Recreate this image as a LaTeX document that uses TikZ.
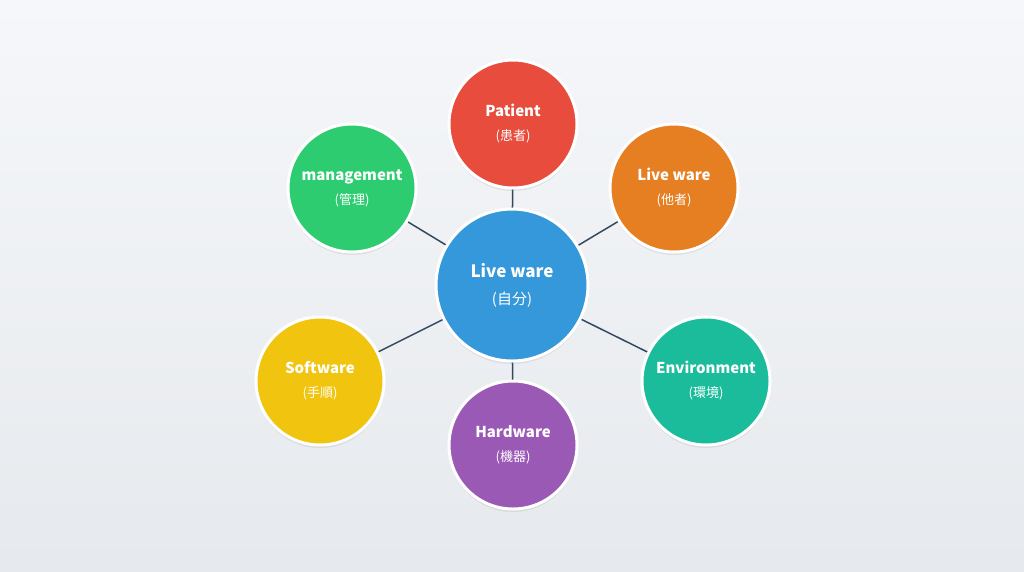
\documentclass[tikz,border=0pt]{standalone}
\usepackage{fontspec}
\setmainfont{Noto Sans CJK JP}
\usetikzlibrary{shadows}
\definecolor{bgA}{HTML}{F5F7FA}
\definecolor{bgB}{HTML}{E6E9ED}
\definecolor{lnk}{HTML}{34495E}
\definecolor{cCen}{HTML}{3498DB}
\definecolor{cPat}{HTML}{E74C3C}
\definecolor{cOth}{HTML}{E67E22}
\definecolor{cEnv}{HTML}{1ABC9C}
\definecolor{cHw}{HTML}{9B59B6}
\definecolor{cSw}{HTML}{F1C40F}
\definecolor{cMg}{HTML}{2ECC71}
\begin{document}
\begin{tikzpicture}[x=1pt,y=-1pt,
  sat/.style={circle,draw=white,line width=3pt,minimum size=128pt,inner sep=0pt,text=white,align=center,font=\bfseries\fontsize{15}{24}\selectfont,drop shadow={opacity=0.15,shadow xshift=0pt,shadow yshift=-3pt}},
  hub/.style={sat,minimum size=152pt,font=\bfseries\fontsize{17}{27}\selectfont},
  link/.style={draw=lnk,line width=1.5pt}]
\useasboundingbox (0,0) rectangle (1024,571);
\shade[top color=bgA,bottom color=bgB] (0,0) rectangle (1024,571);
\coordinate (cc) at (512,285);
\draw[link] (cc) -- (513,124);
\draw[link] (cc) -- (674,188);
\draw[link] (cc) -- (706,381);
\draw[link] (cc) -- (513,445);
\draw[link] (cc) -- (320,381);
\draw[link] (cc) -- (352,188);
\node[sat,fill=cPat] (pat) at (513,124) {Patient\\{\mdseries\fontsize{13}{18}\selectfont(患者)}};
\node[sat,fill=cOth] (oth) at (674,188) {Live ware\\{\mdseries\fontsize{13}{18}\selectfont(他者)}};
\node[sat,fill=cEnv] (env) at (706,381) {Environment\\{\mdseries\fontsize{13}{18}\selectfont(環境)}};
\node[sat,fill=cHw] (hw) at (513,445) {Hardware\\{\mdseries\fontsize{13}{18}\selectfont(機器)}};
\node[sat,fill=cSw] (sw) at (320,381) {Software\\{\mdseries\fontsize{13}{18}\selectfont(手順)}};
\node[sat,fill=cMg] (mg) at (352,188) {management\\{\mdseries\fontsize{13}{18}\selectfont(管理)}};
\node[hub,fill=cCen] (cen) at (cc) {Live ware\\{\mdseries\fontsize{15}{22}\selectfont(自分)}};
\end{tikzpicture}
\end{document}
